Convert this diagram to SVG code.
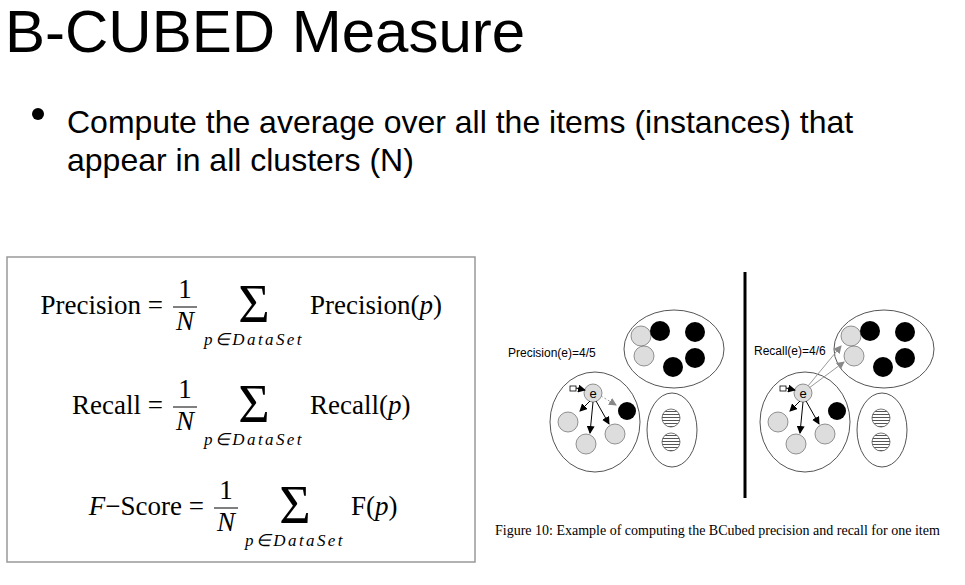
<svg xmlns="http://www.w3.org/2000/svg" width="965" height="585" viewBox="0 0 965 585">
<style>
.s{font-family:"Liberation Sans",Arial,sans-serif;fill:#000}
.m{font-family:"Liberation Serif","DejaVu Serif",serif;fill:#000;font-size:27px}
.i{font-style:italic}
.sg{font-family:"Liberation Serif",serif;font-size:54px}
.sub{font-family:"Liberation Serif",serif;font-style:italic;font-size:17px;letter-spacing:2.4px}
.cl{fill:none;stroke:#555;stroke-width:1}
.lt{fill:#ddd;stroke:#777;stroke-width:0.8}
.bk{fill:#000}
.st{fill:url(#stripe);stroke:#555;stroke-width:0.8}
.ar{stroke:#000;stroke-width:1;fill:none;marker-end:url(#ab)}
.ag{stroke:#999;stroke-width:1;fill:none;marker-end:url(#ag)}
</style>
<defs>
<pattern id="stripe" width="4" height="3" patternUnits="userSpaceOnUse"><rect width="4" height="3" fill="#fff"/><rect width="4" height="1" fill="#555"/></pattern>
<marker id="ab" markerWidth="8" markerHeight="8" refX="7" refY="4" orient="auto" markerUnits="userSpaceOnUse"><path d="M0,0 L8,4 L0,8 Z" fill="#000"/></marker>
<marker id="ag" markerWidth="8" markerHeight="8" refX="7" refY="4" orient="auto" markerUnits="userSpaceOnUse"><path d="M0,0 L8,4 L0,8 Z" fill="#888"/></marker>
</defs>
<rect width="965" height="585" fill="#fff"/>
<text class="s" x="5" y="52" font-size="60">B-CUBED Measure</text>
<circle cx="38" cy="114" r="6" fill="#000"/>
<text class="s" x="67" y="133" font-size="32">Compute the average over all the items (instances) that</text>
<text class="s" x="67" y="171" font-size="32">appear in all clusters (N)</text>

<g id="formulas">
<rect x="7" y="257" width="468" height="305" fill="#fff" stroke="#999" stroke-width="1.5"/>
<g id="precision">
<text class="m" x="163" y="314" text-anchor="end">Precision =</text>
<text class="m" x="185" y="298" text-anchor="middle">1</text>
<line x1="173" y1="307" x2="197" y2="307" stroke="#000" stroke-width="1"/>
<text class="m i" x="185" y="330" text-anchor="middle">N</text>
<text class="sg" x="254" y="322" text-anchor="middle">Σ</text>
<text class="sub" x="204" y="345">p∈DataSet</text>
<text class="m" x="310" y="314">Precision(<tspan class="i">p</tspan>)</text>
</g>
<g id="recall">
<text class="m" x="163" y="414" text-anchor="end">Recall =</text>
<text class="m" x="185" y="398" text-anchor="middle">1</text>
<line x1="173" y1="407" x2="197" y2="407" stroke="#000" stroke-width="1"/>
<text class="m i" x="185" y="430" text-anchor="middle">N</text>
<text class="sg" x="254" y="422" text-anchor="middle">Σ</text>
<text class="sub" x="204" y="445">p∈DataSet</text>
<text class="m" x="310" y="414">Recall(<tspan class="i">p</tspan>)</text>
</g>
<g id="fscore">
<text class="m" x="204" y="515" text-anchor="end"><tspan class="i">F</tspan>−Score =</text>
<text class="m" x="226" y="499" text-anchor="middle">1</text>
<line x1="214" y1="508" x2="238" y2="508" stroke="#000" stroke-width="1"/>
<text class="m i" x="226" y="531" text-anchor="middle">N</text>
<text class="sg" x="295" y="523" text-anchor="middle">Σ</text>
<text class="sub" x="245" y="546">p∈DataSet</text>
<text class="m" x="351" y="515">F(<tspan class="i">p</tspan>)</text>
</g>
</g>

<line x1="745" y1="272" x2="745" y2="498" stroke="#000" stroke-width="3"/>

<g id="left-panel">
<text class="s" x="508" y="357" font-size="12">Precision(e)=4/5</text>
<ellipse class="cl" cx="674" cy="349" rx="50" ry="39"/>
<circle class="lt" cx="641" cy="336" r="10"/>
<circle class="lt" cx="644" cy="356" r="10"/>
<circle class="bk" cx="660" cy="331" r="10"/>
<circle class="bk" cx="695" cy="332" r="10"/>
<circle class="bk" cx="695" cy="358" r="10"/>
<circle class="bk" cx="673" cy="367" r="10"/>
<ellipse class="cl" cx="595" cy="422" rx="45" ry="50"/>
<ellipse class="cl" cx="672" cy="430" rx="25" ry="37"/>
<circle class="st" cx="671" cy="418" r="9"/>
<circle class="st" cx="671" cy="442" r="9"/>
<circle class="bk" cx="627" cy="411" r="9"/>
<circle class="lt" cx="568" cy="422" r="10"/>
<circle class="lt" cx="586" cy="444" r="10"/>
<circle class="lt" cx="615" cy="434" r="10"/>
<circle class="lt" cx="593" cy="393" r="9"/>
<text class="s" x="593" y="398" font-size="13" text-anchor="middle">e</text>
<rect x="570" y="386" width="6" height="5" fill="#fff" stroke="#000" stroke-width="0.8"/>
</g>
<g id="right-panel">
<text class="s" x="754" y="355" font-size="12">Recall(e)=4/6</text>
<ellipse class="cl" cx="884" cy="349" rx="50" ry="39"/>
<circle class="lt" cx="851" cy="336" r="10"/>
<circle class="lt" cx="854" cy="356" r="10"/>
<circle class="bk" cx="870" cy="331" r="10"/>
<circle class="bk" cx="905" cy="332" r="10"/>
<circle class="bk" cx="905" cy="358" r="10"/>
<circle class="bk" cx="883" cy="367" r="10"/>
<ellipse class="cl" cx="805" cy="422" rx="45" ry="50"/>
<ellipse class="cl" cx="882" cy="430" rx="25" ry="37"/>
<circle class="st" cx="881" cy="418" r="9"/>
<circle class="st" cx="881" cy="442" r="9"/>
<circle class="bk" cx="837" cy="411" r="9"/>
<circle class="lt" cx="778" cy="422" r="10"/>
<circle class="lt" cx="796" cy="444" r="10"/>
<circle class="lt" cx="825" cy="434" r="10"/>
<circle class="lt" cx="803" cy="393" r="9"/>
<text class="s" x="803" y="398" font-size="13" text-anchor="middle">e</text>
<rect x="780" y="386" width="6" height="5" fill="#fff" stroke="#000" stroke-width="0.8"/>
</g>
<g id="connectors">
<path class="ar" d="M576,388 L585,390"/>
<path class="ar" d="M590,401 L580,411"/>
<path class="ar" d="M593,402 L590,433"/>
<path class="ar" d="M596,401 L609,424"/>
<path class="ag" d="M601,396 L616,405" stroke-dasharray="2,2"/>
<path class="ar" d="M786,388 L795,390"/>
<path class="ar" d="M800,401 L790,411"/>
<path class="ar" d="M803,402 L800,433"/>
<path class="ar" d="M806,401 L819,424"/>
<path class="ag" d="M808,386 L841,346"/>
<path class="ag" d="M809,388 L844,362"/>
</g>
<text x="495" y="535" font-family="Liberation Serif,serif" font-size="14" fill="#000">Figure 10: Example of computing the BCubed precision and recall for one item</text>
</svg>
